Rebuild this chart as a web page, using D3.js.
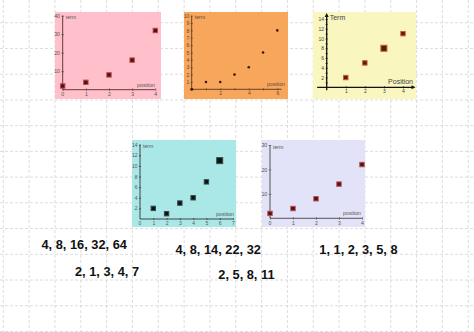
<!DOCTYPE html>
<html>
<head>
<meta charset="utf-8">
<script src="https://cdn.jsdelivr.net/npm/d3@7"></script>
<style>
html,body{margin:0;padding:0;background:#fff;}
svg{display:block;}
text{font-family:"Liberation Sans",Arial,sans-serif;}
</style>
</head>
<body>
<svg id="chart" width="474" height="332"></svg>
<script>
// ---- data ----
const pinkPositions = [0, 1, 2, 3, 4];
const pinkTerms = [2, 4, 8, 16, 32];
const pinkXTicks = [0, 1, 2, 3, 4];
const pinkYTicks = [10, 20, 30, 40];

const orangePositions = [0, 1, 2, 3, 4, 5, 6];
const orangeTerms = [0, 1, 1, 2, 3, 5, 8];
const orangeXTicks = [2, 4, 6];
const orangeYTicks = [1, 2, 3, 4, 5, 6, 7, 8, 9, 10];

const yellowPositions = [1, 2, 3, 4];
const yellowTerms = [2, 5, 8, 11];
const yellowXTicks = [1, 2, 3, 4];
const yellowYTicks = [2, 4, 6, 8, 10, 12, 14];

const cyanPositions = [1, 2, 3, 4, 5, 6];
const cyanTerms = [2, 1, 3, 4, 7, 11];
const cyanXTicks = [1, 2, 3, 4, 5, 6, 7];
const cyanYTicks = [2, 4, 6, 8, 10, 12, 14];

const lavenderPositions = [0, 1, 2, 3, 4];
const lavenderTerms = [2, 4, 8, 14, 22];
const lavenderXTicks = [0, 1, 2, 3, 4];
const lavenderYTicks = [10, 20, 30];

const sequenceLabels = ["4, 8, 16, 32, 64", "2, 1, 3, 4, 7", "4, 8, 14, 22, 32", "2, 5, 8, 11", "1, 1, 2, 3, 5, 8"];

// ---- drawing ----
const svg = d3.select("#chart");

// dashed background grid
const gx = d3.range(3.3, 474, 25.83);
const gy = d3.range(-3, 332, 25.73);
svg.append("g").selectAll("line").data(gx).join("line")
  .attr("x1", d => d).attr("x2", d => d).attr("y1", 0).attr("y2", 332)
  .attr("stroke", "#d4d4d4").attr("stroke-width", 0.8).attr("stroke-dasharray", "3,2");
svg.append("g").selectAll("line").data(gy).join("line")
  .attr("y1", d => d).attr("y2", d => d).attr("x1", 0).attr("x2", 474)
  .attr("stroke", "#d4d4d4").attr("stroke-width", 0.8).attr("stroke-dasharray", "3,2");

function panel(o) {
  const g = svg.append("g");
  g.append("rect").attr("x", o.rect[0]).attr("y", o.rect[1])
    .attr("width", o.rect[2] - o.rect[0]).attr("height", o.rect[3] - o.rect[1])
    .attr("fill", o.bg);
  const x = d3.scaleLinear().domain(o.xDomain).range(o.xRange);
  const y = d3.scaleLinear().domain(o.yDomain).range(o.yRange);

  const xAxis = g.append("g").attr("transform", `translate(0,${y(0)})`)
    .call(d3.axisBottom(x).tickValues(o.xTickMarks).tickSize(o.tickSize).tickFormat(d => o.xTicks.includes(d) ? d : ""));
  const yAxis = g.append("g").attr("transform", `translate(${x(0)},0)`)
    .call(d3.axisLeft(y).tickValues(o.yTickMarks).tickSize(o.tickSize).tickFormat(d => o.yTicks.includes(d) ? d : ""));
  [xAxis, yAxis].forEach(a => {
    a.select(".domain").remove();
    a.selectAll(".tick line").attr("stroke", o.axisColor).attr("stroke-width", 0.7);
    a.selectAll(".tick text").attr("fill", o.labelColor).attr("font-size", o.tickFont)
      .attr("font-family", "'Liberation Sans',Arial,sans-serif");
  });
  xAxis.selectAll(".tick line").attr("y1", -o.tickSize / 2).attr("y2", o.tickSize / 2);
  xAxis.selectAll(".tick text").attr("y", o.tickSize / 2 + 1.5);
  yAxis.selectAll(".tick line").attr("x1", -o.tickSize / 2).attr("x2", o.tickSize / 2);
  yAxis.selectAll(".tick text").attr("x", -o.tickSize / 2 - 1.5);

  // axis lines
  g.append("line").attr("x1", x(o.xLine[0])).attr("x2", x(o.xLine[1]))
    .attr("y1", y(0)).attr("y2", y(0)).attr("stroke", o.axisColor).attr("stroke-width", o.axisWidth);
  g.append("line").attr("x1", x(0)).attr("x2", x(0))
    .attr("y1", y(o.yLine[0])).attr("y2", y(o.yLine[1])).attr("stroke", o.axisColor).attr("stroke-width", o.axisWidth);
  if (o.arrows) {
    const xe = x(o.xLine[1]), ye = y(o.yLine[1]);
    g.append("path").attr("d", `M${xe + 2},${y(0)} L${xe - 2},${y(0) - 2} L${xe - 2},${y(0) + 2}Z`).attr("fill", o.axisColor);
    g.append("path").attr("d", `M${x(0)},${ye - 2} L${x(0) - 2},${ye + 2} L${x(0) + 2},${ye + 2}Z`).attr("fill", o.axisColor);
  }
  if (o.originLabel) {
    g.append("text").attr("x", x(0)).attr("y", y(0) + o.tickSize / 2 + 1.5).attr("dy", "0.71em")
      .attr("text-anchor", "middle").attr("font-size", o.tickFont).attr("fill", o.labelColor).text("0");
  }
  // axis titles
  g.append("text").attr("x", x(0) + 3).attr("y", y(o.yLine[1]) + o.titleDy)
    .attr("font-size", o.titleFont).attr("fill", o.labelColor).text(o.yTitle);
  g.append("text").attr("x", o.xTitleX).attr("y", y(0) - 3)
    .attr("text-anchor", "end").attr("font-size", o.titleFont).attr("fill", o.labelColor).text(o.xTitle);

  // points
  const pts = o.positions.map((p, i) => ({ p, t: o.terms[i], big: o.big && o.big.includes(i) }));
  if (o.marker === "dot") {
    g.selectAll("circle.pt").data(pts).join("circle")
      .attr("cx", d => x(d.p)).attr("cy", d => y(d.t)).attr("r", (d, i) => i === 0 ? 1.5 : 1.3)
      .attr("fill", o.markerFill);
  } else {
    g.selectAll("rect.pt").data(pts).join("rect")
      .attr("x", d => x(d.p) - (d.big ? 3 : 2.2)).attr("y", d => y(d.t) - (d.big ? 3 : 2.2))
      .attr("width", d => d.big ? 6 : 4.4).attr("height", d => d.big ? 6 : 4.4)
      .attr("fill", o.markerFill).attr("stroke", o.markerStroke).attr("stroke-width", 1);
  }
}

panel({
  rect: [55, 12, 161, 99], bg: "#ffc0cb",
  xDomain: [0, 4], xRange: [62.7, 155.3], yDomain: [0, 40], yRange: [89.7, 15.7],
  xTicks: pinkXTicks.filter(d => d !== 0), xTickMarks: pinkXTicks, yTicks: pinkYTicks, yTickMarks: pinkYTicks,
  xLine: [0, 4], yLine: [0, 40], tickSize: 2.5, tickFont: 5.2, titleFont: 5.2, titleDy: 3.5,
  axisColor: "#6b3a3a", axisWidth: 1, labelColor: "#555", originLabel: true,
  yTitle: "term", xTitle: "position", xTitleX: 155,
  positions: pinkPositions, terms: pinkTerms, marker: "sq", markerFill: "#4a1414", markerStroke: "#c04848"
});
panel({
  rect: [184, 12, 288, 99], bg: "#f8a65c",
  xDomain: [0, 6], xRange: [191.7, 277.3], yDomain: [0, 10], yRange: [89.3, 15.7],
  xTicks: orangeXTicks, xTickMarks: [1, 2, 3, 4, 5, 6], yTicks: orangeYTicks, yTickMarks: orangeYTicks,
  xLine: [0, 6.3], yLine: [0, 10], tickSize: 2, tickFont: 5, titleFont: 5.2, titleDy: 3.5,
  axisColor: "#5a3a20", axisWidth: 0.9, labelColor: "#5a4a3a", originLabel: false,
  yTitle: "term", xTitle: "position", xTitleX: 285,
  positions: orangePositions, terms: orangeTerms, marker: "dot", markerFill: "#3a1a10"
});
panel({
  rect: [313, 12, 416, 99], bg: "#faf6c0",
  xDomain: [0, 4], xRange: [326.7, 403], yDomain: [0, 14], yRange: [87.3, 19],
  xTicks: yellowXTicks, xTickMarks: yellowXTicks, yTicks: yellowYTicks, yTickMarks: d3.range(1, 15),
  xLine: [-0.5, 4.55], yLine: [-0.6, 14.8], tickSize: 2.2, tickFont: 5, titleFont: 7, titleDy: 4.5,
  axisColor: "#111", axisWidth: 1.3, labelColor: "#444", originLabel: false, arrows: true,
  yTitle: "Term", xTitle: "Position", xTitleX: 413,
  positions: yellowPositions, terms: yellowTerms, big: [2], marker: "sq", markerFill: "#5a1a10", markerStroke: "#c85a40"
});
panel({
  rect: [132, 140, 236, 227], bg: "#aae8e8",
  xDomain: [0, 7], xRange: [140, 233], yDomain: [0, 14], yRange: [219, 144.7],
  xTicks: cyanXTicks, xTickMarks: cyanXTicks, yTicks: cyanYTicks, yTickMarks: cyanYTicks,
  xLine: [0, 7], yLine: [0, 14], tickSize: 2, tickFont: 5, titleFont: 5.2, titleDy: 3.5,
  axisColor: "#333", axisWidth: 0.9, labelColor: "#555", originLabel: true,
  yTitle: "term", xTitle: "position", xTitleX: 234,
  positions: cyanPositions, terms: cyanTerms, big: [5], marker: "sq", markerFill: "#0a1414", markerStroke: "#3a4a4a"
});
panel({
  rect: [262, 140, 365, 227], bg: "#e2e2f8",
  xDomain: [0, 4], xRange: [270, 362], yDomain: [0, 30], yRange: [218.3, 145],
  xTicks: lavenderXTicks.filter(d => d !== 0), xTickMarks: lavenderXTicks, yTicks: lavenderYTicks, yTickMarks: lavenderYTicks,
  xLine: [0, 4], yLine: [0, 30], tickSize: 2.5, tickFont: 5.2, titleFont: 5.2, titleDy: 3.5,
  axisColor: "#555", axisWidth: 1, labelColor: "#555", originLabel: true,
  yTitle: "term", xTitle: "position", xTitleX: 361,
  positions: lavenderPositions, terms: lavenderTerms, marker: "sq", markerFill: "#3a1a1a", markerStroke: "#c84848"
});

// sequence captions
const labelPos = [[41.5, 249], [75, 276], [175.5, 254], [218.3, 278.7], [319.3, 254]];
svg.append("g").selectAll("text").data(sequenceLabels).join("text")
  .attr("x", (d, i) => labelPos[i][0]).attr("y", (d, i) => labelPos[i][1])
  .attr("font-size", 12.8).attr("font-weight", "bold").attr("fill", "#111")
  .text(d => d);
</script>
</body>
</html>
